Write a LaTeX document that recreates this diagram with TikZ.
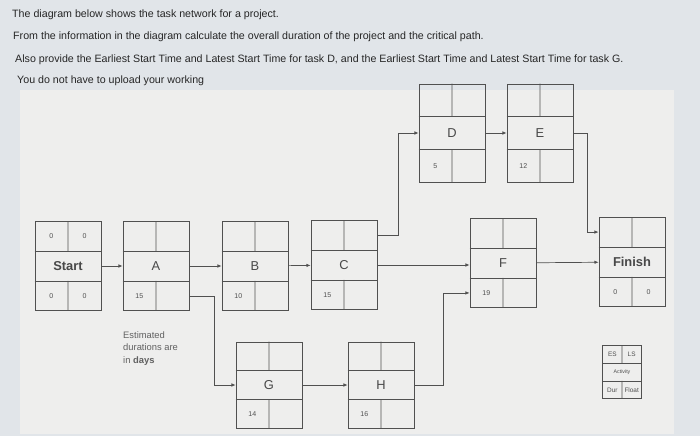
\documentclass[tikz,border=0pt]{standalone}
\usepackage{fontspec}
\setmainfont{Liberation Sans}
\usepackage{tikz}
\usetikzlibrary{arrows.meta,calc}
\definecolor{page}{RGB}{225,229,233}
\definecolor{panel}{RGB}{238,238,237}
\definecolor{ink}{RGB}{80,80,80}

\begin{document}
\begin{tikzpicture}[x=0.03cm,y=-0.03cm,
	task/.style={draw=ink, line width=0.7pt, minimum width=1.98cm, minimum height=#1, inner sep=0pt, text=ink!90!black, font=\fontsize{11}{13}\selectfont},
	task/.default=2.67cm,
	keybox/.style={draw=ink, line width=0.6pt, minimum width=1.17cm, minimum height=1.59cm, inner sep=0pt, text=ink, font=\fontsize{4.5}{5}\selectfont},
	num/.style={text=ink, font=\fontsize{6}{7}\selectfont, inner sep=0pt},
	small/.style={text=ink, font=\fontsize{5.5}{6}\selectfont, inner sep=0pt},
	link/.style={draw=ink, line width=0.6pt, -{Latex[length=3.5pt,width=3pt]}},
	question/.style={anchor=west, inner sep=0pt, text=black!85, font=\fontsize{9.1}{11}\selectfont}]
			%%Background
			\fill[page] (0,0) rectangle (700,436);
			\fill[panel] (20,90) rectangle (674,434);
			%%Question
			\node[question] (q1) at (12,15) {The diagram below shows the task network for a project.};
			\node[question] (q2) at (13,37) {From the information in the diagram calculate the overall duration of the project and the critical path.};
			\node[question] (q3) at (15,60) {Also provide the Earliest Start Time and Latest Start Time for task D, and the Earliest Start Time and Latest Start Time for task G.};
			\node[question] (q4) at (17,81) {You do not have to upload your working};
			%%Tasks
			\node[task] (start) at (68,266) {\textbf{Start}};
			\node[task] (a) at (156,266) {A};
			\node[task] (b) at (255,266) {B};
			\node[task] (c) at (344,265) {C};
			\node[task=2.94cm] (d) at (452,133) {D};
			\node[task=2.94cm] (e) at (540,133) {E};
			\node[task] (f) at (503,263) {F};
			\node[task] (finish) at (632,262) {\textbf{Finish}};
			\node[task=2.58cm] (g) at (269,385) {G};
			\node[task=2.58cm] (h) at (381,385) {H};
			\node[keybox] (key) at (622,372) {Activity};
			%%Cells
			\foreach \t in {start,a,b,c,d,e,f,finish,g,h,key} {
				\draw[ink, line width=0.6pt] ($(\t.north west)!1/3!(\t.south west)$) -- ($(\t.north east)!1/3!(\t.south east)$);
				\draw[ink, line width=0.6pt] ($(\t.north west)!2/3!(\t.south west)$) -- ($(\t.north east)!2/3!(\t.south east)$);
				\draw[ink, line width=0.6pt] (\t.north) -- ($(\t.north)!1/3!(\t.south)$);
				\draw[ink, line width=0.6pt] ($(\t.north)!2/3!(\t.south)$) -- (\t.south);
			}
			%%Times
			\node[num] at ([xshift=-0.5cm,yshift=-0.45cm]start.north) {0};
			\node[num] at ([xshift=0.5cm,yshift=-0.45cm]start.north) {0};
			\node[num] at ([xshift=-0.5cm,yshift=0.45cm]start.south) {0};
			\node[num] at ([xshift=0.5cm,yshift=0.45cm]start.south) {0};
			\node[num] at ([xshift=-0.5cm,yshift=0.45cm]a.south) {15};
			\node[num] at ([xshift=-0.5cm,yshift=0.45cm]b.south) {10};
			\node[num] at ([xshift=-0.5cm,yshift=0.45cm]c.south) {15};
			\node[num] at ([xshift=-0.5cm,yshift=0.49cm]d.south) {5};
			\node[num] at ([xshift=-0.5cm,yshift=0.49cm]e.south) {12};
			\node[num] at ([xshift=-0.5cm,yshift=0.45cm]f.south) {19};
			\node[num] at ([xshift=-0.5cm,yshift=0.43cm]g.south) {14};
			\node[num] at ([xshift=-0.5cm,yshift=0.43cm]h.south) {16};
			\node[num] at ([xshift=-0.5cm,yshift=0.45cm]finish.south) {0};
			\node[num] at ([xshift=0.5cm,yshift=0.45cm]finish.south) {0};
			%%Key
			\node[small] at ([xshift=-0.29cm,yshift=-0.265cm]key.north) {ES};
			\node[small] at ([xshift=0.29cm,yshift=-0.265cm]key.north) {LS};
			\node[small] at ([xshift=-0.29cm,yshift=0.265cm]key.south) {Dur};
			\node[small] at ([xshift=0.29cm,yshift=0.265cm]key.south) {Float};
			%%Note
			\node[anchor=north west, align=left, inner sep=0pt, text=ink!90, font=\fontsize{8}{11}\selectfont] (note) at (123,331) {Estimated\\durations are\\in \textbf{days}};
			%%Links
			\draw[link] (start) -- (a);
			\draw[link] (a) -- (b);
			\draw[link] (b) -- (c);
			\draw[link] (c.east) -- (c.east -| f.west);
			\draw[link] (d) -- (e);
			\draw[link] (f) -- (finish);
			\draw[link] (g) -- (h);
			\draw[link] ($(a.north east)!5/6!(a.south east)$) -- ++(25,0) |- (g);
			\draw[link] ($(c.north east)!1/6!(c.south east)$) -- ++(21,0) |- (d);
			\draw[link] (e.east) -- ++(14,0) |- ($(finish.north west)!1/6!(finish.south west)$);
			\draw[link] (h.east) -- ++(29,0) |- ($(f.north west)!5/6!(f.south west)$);
\end{tikzpicture}
\end{document}
